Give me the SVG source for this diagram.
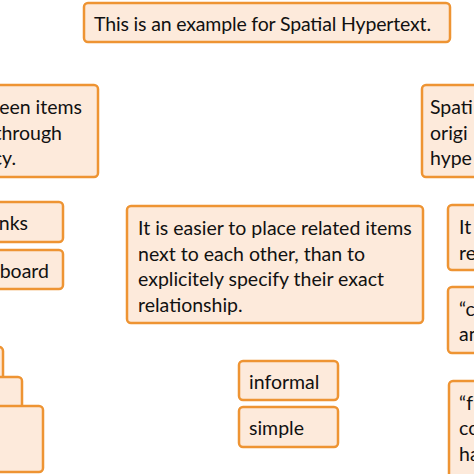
<svg xmlns="http://www.w3.org/2000/svg" width="474" height="474" viewBox="0 0 474 474">
<style>
.b{fill:#fdeadb;stroke:#ee9433;stroke-width:2.5}
.t{font-family:Lato,"Open Sans",sans-serif;font-size:19.5px;fill:#111111}
</style>
<rect width="474" height="474" fill="#ffffff"/>
<g id="title"><rect class="b" x="84" y="3" width="366" height="39" rx="4"/><text class="t" x="94" y="31" textLength="337">This is an example for Spatial Hypertext.</text></g>
<g id="left1"><rect class="b" x="-10" y="85" width="108" height="92" rx="4"/>
<text class="t" x="82" y="114" text-anchor="end">een items</text>
<text class="t" x="62" y="140" text-anchor="end">through</text>
<text class="t" x="16" y="165" text-anchor="end">cy.</text></g>
<g id="left2"><rect class="b" x="-10" y="202" width="73" height="40" rx="4"/><text class="t" x="28" y="230" text-anchor="end">nks</text></g>
<g id="left3"><rect class="b" x="-10" y="250" width="73" height="39" rx="4"/><text class="t" x="49" y="278" text-anchor="end">board</text></g>
<g id="stack1"><rect class="b" x="-10" y="347" width="13" height="60" rx="4"/></g>
<g id="stack2"><rect class="b" x="-10" y="377" width="32" height="39" rx="4"/></g>
<g id="stack3"><rect class="b" x="-10" y="406" width="53" height="66" rx="4"/></g>
<g id="center"><rect class="b" x="127" y="206" width="296" height="117" rx="4"/>
<text class="t" x="138" y="235">It is easier to place related items</text>
<text class="t" x="138" y="260.5">next to each other, than to</text>
<text class="t" x="138" y="286">explicitely specify their exact</text>
<text class="t" x="138" y="311.5">relationship.</text></g>
<g id="informal"><rect class="b" x="239" y="361" width="99" height="39" rx="4"/><text class="t" x="249" y="389">informal</text></g>
<g id="simple"><rect class="b" x="239" y="407" width="99" height="40" rx="4"/><text class="t" x="249" y="435">simple</text></g>
<g id="right1"><rect class="b" x="422" y="85" width="70" height="92" rx="4"/>
<text class="t" x="430" y="114">Spati</text>
<text class="t" x="430" y="140">origi</text>
<text class="t" x="430" y="165">hype</text></g>
<g id="right2"><rect class="b" x="448" y="205" width="40" height="65" rx="4"/>
<text class="t" x="459" y="234">It</text><text class="t" x="459" y="260">re</text></g>
<g id="right3"><rect class="b" x="448" y="287" width="40" height="66" rx="4"/>
<text class="t" x="459" y="316">“c</text><text class="t" x="459" y="341">an</text></g>
<g id="right4"><rect class="b" x="449" y="381" width="40" height="100" rx="4"/>
<text class="t" x="459" y="410">“f</text><text class="t" x="459" y="435">co</text><text class="t" x="459" y="461">ha</text></g>
</svg>
